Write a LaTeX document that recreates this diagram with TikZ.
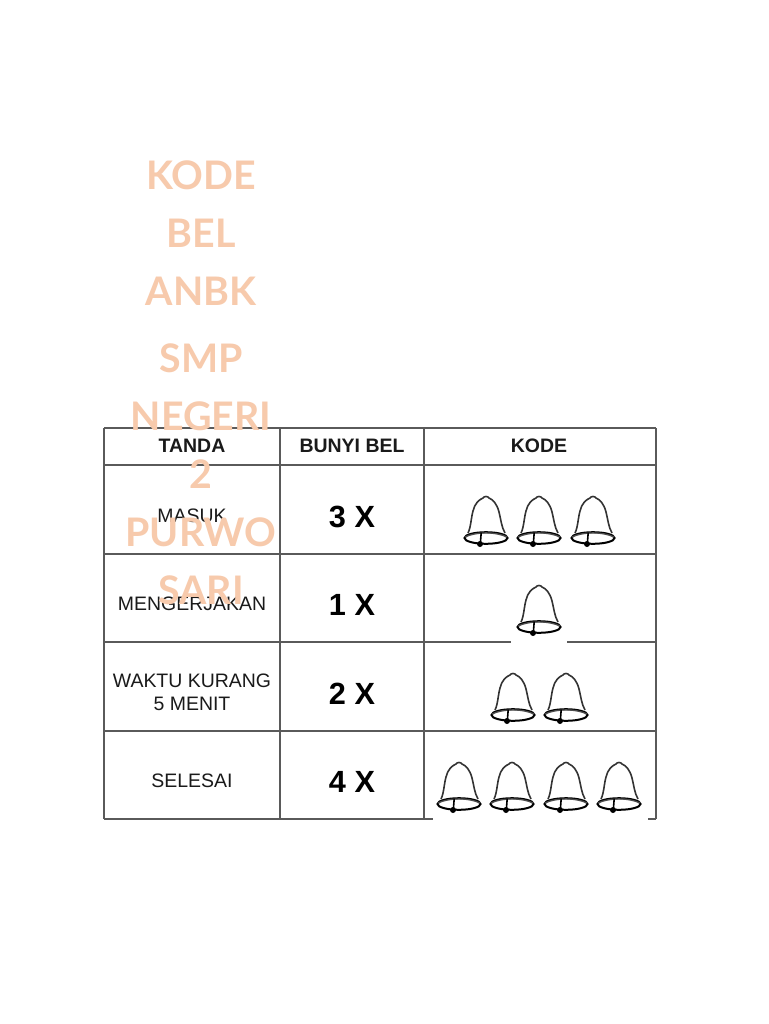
\documentclass[tikz,border=0pt]{standalone}
\usepackage{fontspec}
\setmainfont{Liberation Sans}
\newfontfamily\titlefont{Lato}
\definecolor{peach}{HTML}{F7CAAC}
\definecolor{rule}{HTML}{5A5A5A}
\definecolor{ink}{HTML}{1A1A1A}
\tikzset{
  x=0.75pt,y=-0.75pt,
  gridline/.style={draw=rule,line width=0.95pt},
  headtxt/.style={font=\bfseries\fontsize{14.6}{15}\selectfont,text=ink,inner sep=0pt,anchor=center},
  labeltxt/.style={font=\fontsize{14.6}{17.4}\selectfont,text=ink,inner sep=0pt,align=center,anchor=center},
  counttxt/.style={font=\bfseries\fontsize{23}{23}\selectfont,text=black,inner sep=0pt,anchor=center},
  titletxt/.style={font=\titlefont\bfseries\fontsize{29.5}{30}\selectfont,text=peach,inner sep=0pt,anchor=center},
  bell/.pic={
    \draw[black!80,line width=1.2pt,line join=round]
      (-18,-5) .. controls (-15,-11) and (-15,-20) .. (-13,-27)
      .. controls (-11.5,-34) and (-7,-38.5) .. (-3,-40)
      .. controls (-2,-42) and (2,-42) .. (3,-40)
      .. controls (7,-38.5) and (11,-34) .. (13,-26)
      .. controls (15,-18) and (15.5,-11) .. (19,-5);
    \draw[black,line width=1.5pt] (0,0) ellipse [x radius=21.5,y radius=5.8];
    \draw[black!70,line width=1pt] (-21,-1) .. controls (-10,-6.5) and (10,-6.5) .. (21,-1);
    \draw[black,line width=1.2pt] (-4.8,-5.5) -- (-5.6,5);
    \fill[black] (-6,6) circle (3);
  }
}
\begin{document}
\begin{tikzpicture}
\useasboundingbox[fill=white] (0,0) rectangle (768,1024);

% table rules
\draw[gridline] (104,428) -- (656,428);
\draw[gridline] (104,465) -- (656,465);
\draw[gridline] (104,554) -- (656,554);
\draw[gridline] (104,642) -- (511,642);
\draw[gridline] (567,642) -- (656,642);
\draw[gridline] (104,731) -- (656,731);
\draw[gridline] (104,819) -- (433,819);
\draw[gridline] (648,819) -- (656,819);
\draw[gridline] (104,428) -- (104,819);
\draw[gridline] (280,428) -- (280,819);
\draw[gridline] (424,428) -- (424,819);
\draw[gridline] (656,428) -- (656,819);

% header
\node[headtxt] (h1) at (192,446) {TANDA};
\node[headtxt] (h2) at (352,446) {BUNYI BEL};
\node[headtxt] (h3) at (539,446) {KODE};

% first column
\node[labeltxt] (t1) at (192,516) {MASUK};
\node[labeltxt] (t2) at (192,604) {MENGERJAKAN};
\node[labeltxt] (t3) at (192,692) {WAKTU KURANG\\5 MENIT};
\node[labeltxt] (t4) at (192,781) {SELESAI};

% second column
\node[counttxt] (c1) at (352,517) {3 X};
\node[counttxt] (c2) at (352,605) {1 X};
\node[counttxt] (c3) at (352,694) {2 X};
\node[counttxt] (c4) at (352,782) {4 X};

% bells
\pic at (486,538) {bell};
\pic at (539,538) {bell};
\pic at (593,538) {bell};
\pic at (539,627) {bell};
\pic at (513,715) {bell};
\pic at (566,715) {bell};
\pic at (459,804) {bell};
\pic at (512,804) {bell};
\pic at (566,804) {bell};
\pic at (619,804) {bell};

% overlaid title
\node[titletxt] (k1) at (201,175) {KODE};
\node[titletxt] (k2) at (201,233) {BEL};
\node[titletxt] (k3) at (201,291) {ANBK};
\node[titletxt] (k4) at (201,358) {SMP};
\node[titletxt] (k5) at (201,416) {NEGERI};
\node[titletxt] (k6) at (201,474) {2};
\node[titletxt] (k7) at (201,532) {PURWO};
\node[titletxt] (k8) at (201,590) {SARI};
\end{tikzpicture}
\end{document}
